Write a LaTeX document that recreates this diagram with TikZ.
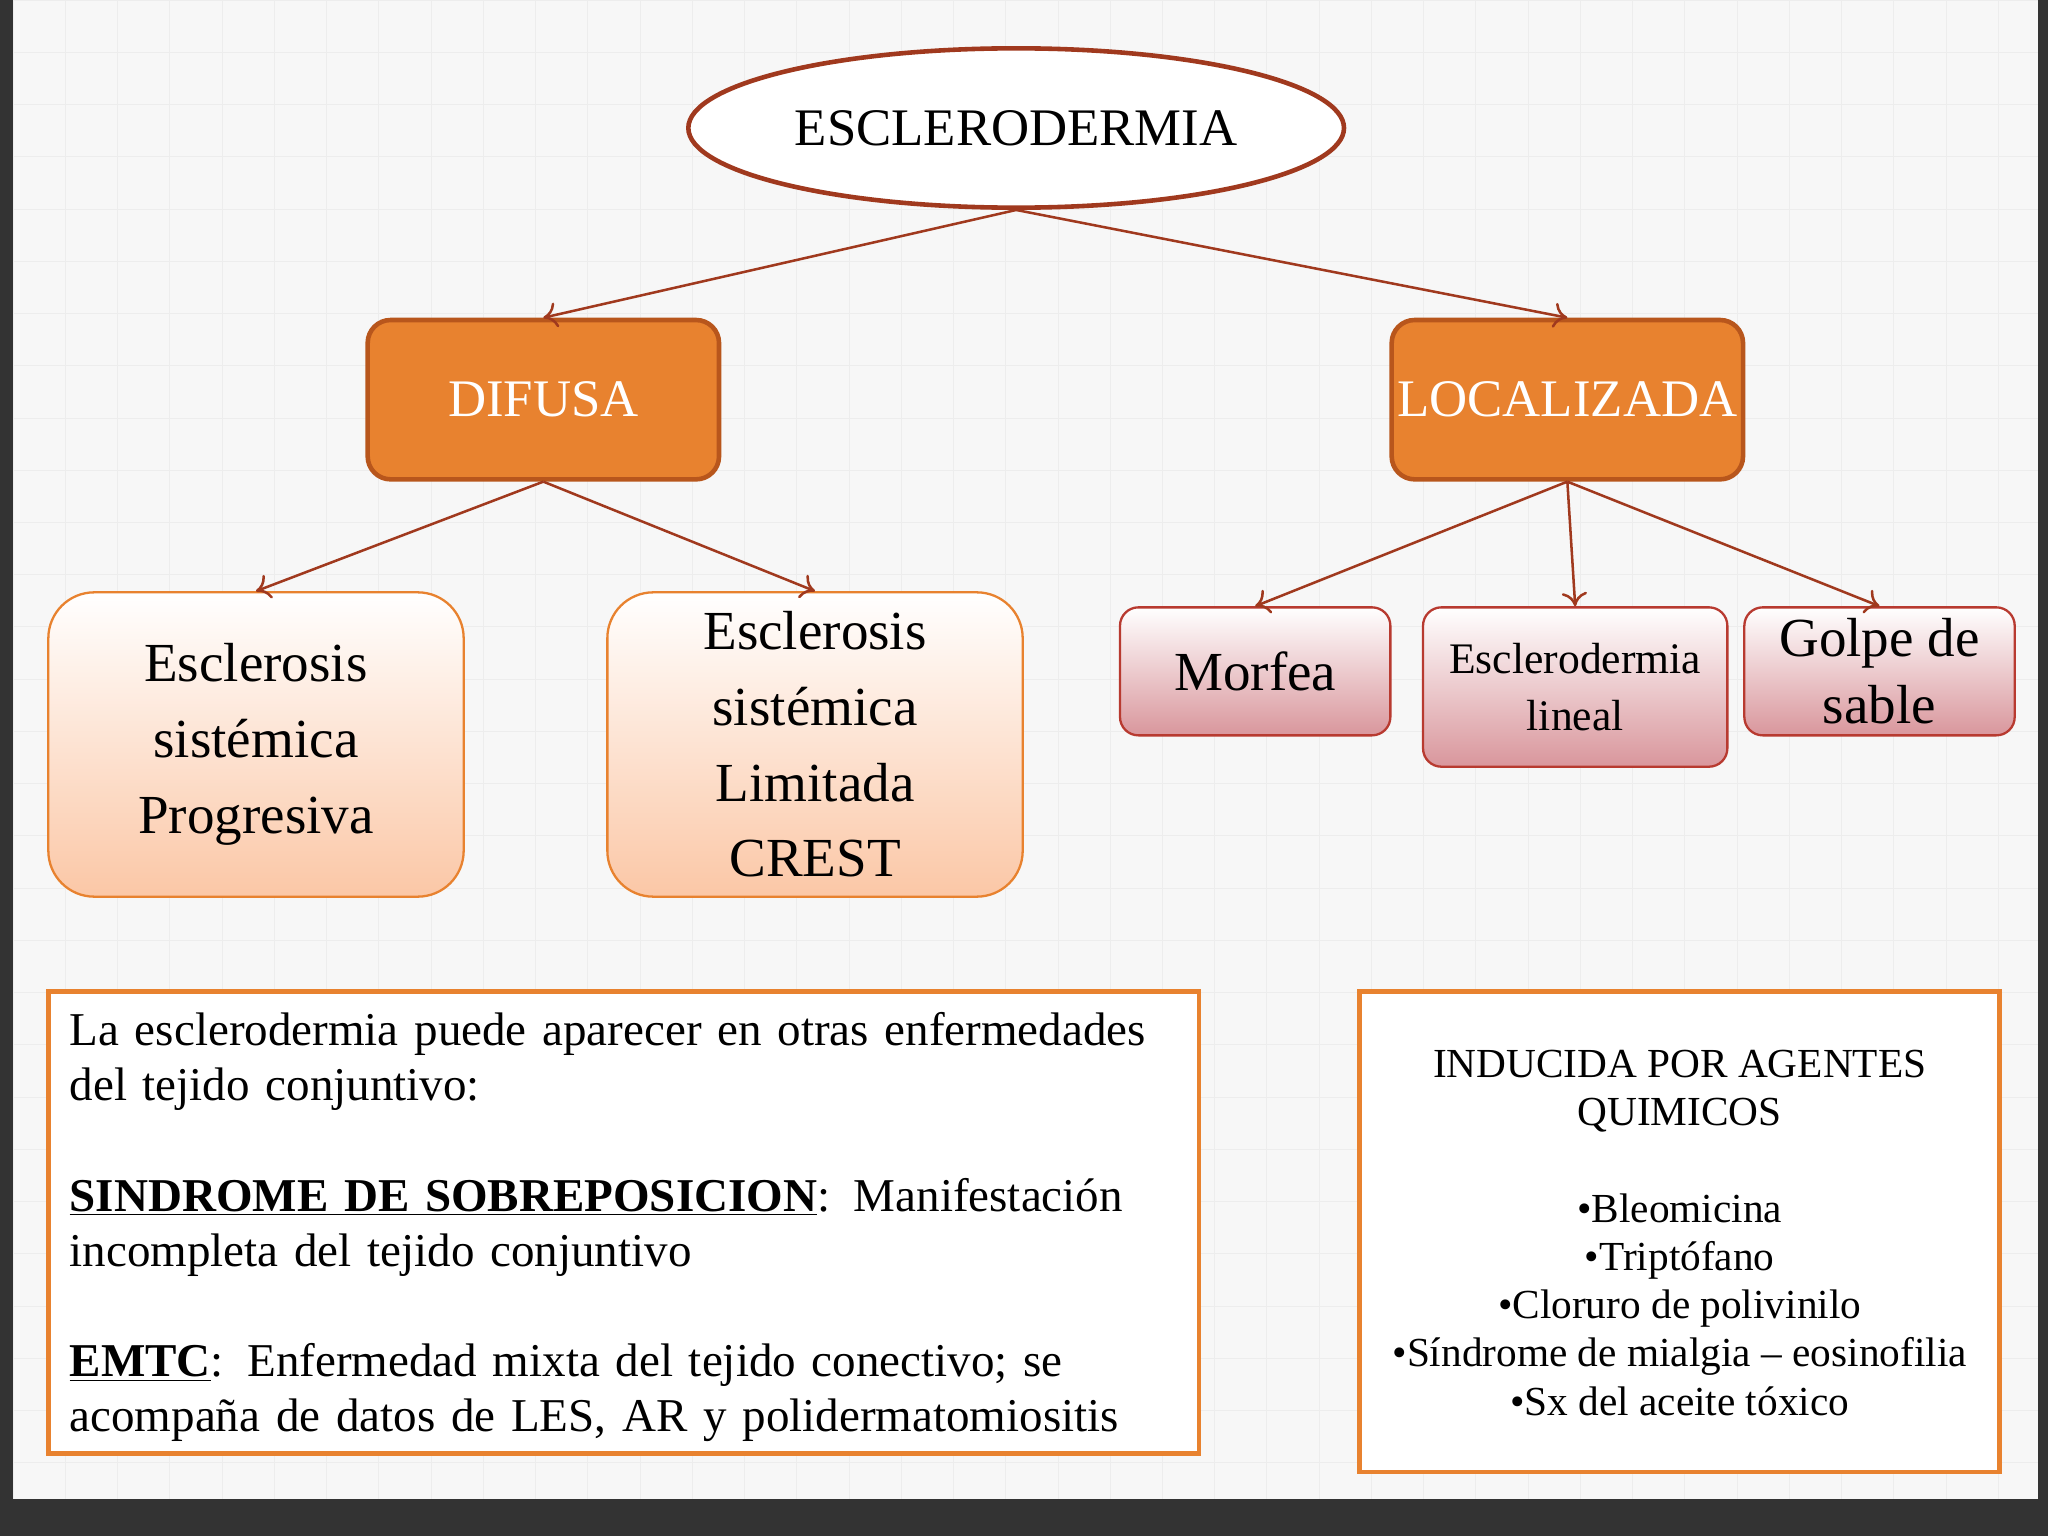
\documentclass[tikz,border=0pt]{standalone}
\usepackage{fontspec}
\setmainfont{Liberation Serif}
\usetikzlibrary{shapes.geometric,arrows.meta}
\definecolor{dred}{HTML}{A0391E}
\definecolor{orng}{HTML}{E8822F}
\definecolor{orngb}{HTML}{B8561C}
\definecolor{peach}{HTML}{FBC7A6}
\definecolor{pinkb}{HTML}{D9969C}
\definecolor{pinkl}{HTML}{B83A30}
\begin{document}
\begin{tikzpicture}[x=0.02cm,y=-0.02cm,
  arr/.style={draw=dred,line width=1.1pt,-{To[length=6pt,width=11pt]}},
  main/.style={draw=orngb,line width=2pt,fill=orng,rounded corners=10pt,text=white,font=\fontsize{23}{30}\selectfont,minimum width=269*0.02cm,minimum height=122*0.02cm,inner sep=2pt},
  sub/.style={draw=orng,line width=1pt,top color=white,bottom color=peach,rounded corners=20pt,align=center,font=\fontsize{24}{33}\selectfont,minimum width=318*0.02cm,minimum height=233*0.02cm},
  loc/.style={draw=pinkl,line width=1pt,top color=white,bottom color=pinkb,rounded corners=8pt,align=center,minimum width=207*0.02cm,minimum height=98*0.02cm},
  txt/.style={draw=orng,line width=2pt,fill=white}]
\useasboundingbox (0,0) rectangle (1568,1176);
\fill[black!80] (0,0) rectangle (1568,1176);
\fill[gray!6] (10,0) rectangle (1560,1148);
\foreach \i in {0,40,...,1560} \draw[gray!14] (10+\i,0) -- (10+\i,1148);
\foreach \j in {0,40,...,1140} \draw[gray!14] (10,\j) -- (1560,\j);
\node[ellipse,draw=dred,line width=2pt,fill=white,inner sep=0pt,minimum width=502*0.02cm,minimum height=122*0.02cm,font=\fontsize{23}{30}\selectfont] (e) at (778,98) {ESCLERODERMIA};
\node[main] (d) at (416,306) {DIFUSA};
\node[main] (l) at (1200,306) {LOCALIZADA};
\node[sub] (s1) at (196,570) {Esclerosis\\sistémica\\Progresiva};
\node[sub] (s2) at (624,570) {Esclerosis\\sistémica\\Limitada\\CREST};
\node[loc,font=\fontsize{24}{30}\selectfont] (m) at (961,514) {Morfea};
\node[loc,minimum width=233*0.02cm,minimum height=122*0.02cm,font=\fontsize{19}{25}\selectfont] (el) at (1206,526) {Esclerodermia\\lineal};
\node[loc,font=\fontsize{24}{29}\selectfont] (g) at (1439,514) {Golpe de\\sable};
\draw[arr] (e.south) -- (d.north);
\draw[arr] (e.south) -- (l.north);
\draw[arr] (d.south) -- (s1.north);
\draw[arr] (d.south) -- (s2.north);
\draw[arr] (l.south) -- (m.north);
\draw[arr] (l.south) -- (el.north);
\draw[arr] (l.south) -- (g.north);
\draw[txt] (37,759) rectangle (918,1113);
\node[anchor=north west,align=left,text width=860*0.02cm,inner sep=0pt,font=\fontsize{20.5}{24}\selectfont] (t1) at (53,775) {La esclerodermia puede aparecer en otras enfermedades\\del tejido conjuntivo:\\[24pt]\underline{\textbf{SINDROME DE SOBREPOSICION}}: Manifestación\\incompleta del tejido conjuntivo\\[24pt]\underline{\textbf{EMTC}}: Enfermedad mixta del tejido conectivo; se\\acompaña de datos de LES, AR y polidermatomiositis};
\draw[txt] (1041,759) rectangle (1531,1127);
\node[align=center,inner sep=0pt,font=\fontsize{18}{21}\selectfont] (t2) at (1286,944) {INDUCIDA POR AGENTES\\QUIMICOS\\[21pt]•Bleomicina\\•Triptófano\\•Cloruro de polivinilo\\•Síndrome de mialgia – eosinofilia\\•Sx del aceite tóxico};
\end{tikzpicture}
\end{document}
